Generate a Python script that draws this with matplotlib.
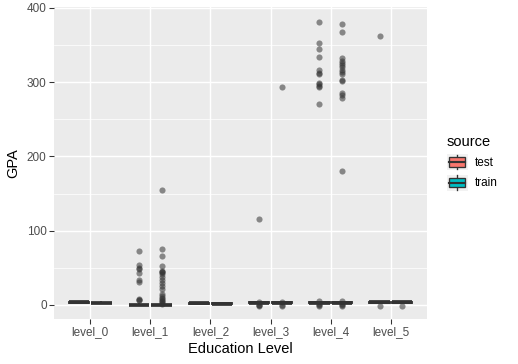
import matplotlib
matplotlib.use('Agg')
import matplotlib.pyplot as plt
from matplotlib.patches import Rectangle, Patch
from matplotlib.lines import Line2D
from matplotlib.legend_handler import HandlerBase

plt.rcParams['font.family'] = ['Liberation Sans', 'DejaVu Sans']

levels = ['level_0', 'level_1', 'level_2', 'level_3', 'level_4', 'level_5']
sources = ['test', 'train']
fills = {'test': '#F8766D', 'train': '#00BFC4'}

# box statistics (GPA)
test_lo = [2.9, 0.0, 1.2, 1.8, 1.8, 2.4]
test_q1 = [3.2, 0.0, 1.8, 2.6, 2.8, 3.0]
test_med = [3.5, 0.0, 2.2, 3.0, 3.2, 3.4]
test_q3 = [3.8, 0.4, 2.6, 3.4, 3.6, 3.7]
test_hi = [4.0, 1.0, 3.2, 4.0, 4.0, 4.0]

train_lo = [2.5, 0.0, 1.0, 1.8, 1.8, 2.4]
train_q1 = [2.8, 0.0, 1.6, 2.6, 2.8, 3.0]
train_med = [3.0, 0.0, 2.0, 3.0, 3.2, 3.4]
train_q3 = [3.3, 0.4, 2.4, 3.4, 3.6, 3.7]
train_hi = [3.6, 1.0, 3.0, 4.0, 4.0, 4.0]

test_out = [
    [],
    [73, 54, 50, 48, 43, 34, 31, 8, 7, 6.5],
    [],
    [116, 4.5, 0.5, -0.5, -1.5],
    [381, 353, 345, 334, 317, 313, 311, 299, 297, 295, 293, 270, 5.5, 1, 0, -1],
    [362, -1],
]
train_out = [
    [],
    [155, 75, 66, 53, 46, 45, 44, 42, 38, 33, 30, 26, 22, 15, 12, 10, 8, 6, 5, 3, 2],
    [],
    [293, 4.5, 0, -1],
    [379, 368, 332, 329, 326, 323, 320, 317, 314, 311, 303, 301, 286, 283, 279, 180,
     5, 2, 0, -1],
    [-1],
]

stats = {
    'test': (test_lo, test_q1, test_med, test_q3, test_hi, test_out),
    'train': (train_lo, train_q1, train_med, train_q3, train_hi, train_out),
}

dpi = 96
fig = plt.figure(figsize=(518 / dpi, 364 / dpi), dpi=dpi)
ax = fig.add_axes([54 / 518, 1 - 318.5 / 364, (427 - 54) / 518, (318.5 - 7) / 364])
ax.set_facecolor('#EBEBEB')
for s in ax.spines.values():
    s.set_visible(False)

edge = '#333333'
for k, src in enumerate(sources):
    lo, q1, med, q3, hi, out = stats[src]
    bs = []
    for i in range(len(levels)):
        bs.append({'whislo': lo[i], 'q1': q1[i], 'med': med[i], 'q3': q3[i],
                   'whishi': hi[i], 'fliers': out[i]})
    pos = [i + 1 + (k - 0.5) * 0.375 for i in range(len(levels))]
    ax.bxp(bs, positions=pos, widths=0.3375, patch_artist=True, showcaps=False,
           boxprops=dict(facecolor=fills[src], edgecolor=edge, linewidth=1.4),
           medianprops=dict(color=edge, linewidth=2.8),
           whiskerprops=dict(color=edge, linewidth=1.4),
           flierprops=dict(marker='o', markersize=4.6, markerfacecolor=edge,
                           markeredgecolor='none', alpha=0.55),
           zorder=3)

ax.set_xlim(0.4, 6.6)
ax.set_ylim(-18.2, 401.3)
ax.set_xticks(range(1, len(levels) + 1))
ax.set_xticklabels(levels)
ax.set_yticks([0, 100, 200, 300, 400])
ax.set_yticks([50, 150, 250, 350], minor=True)
ax.grid(True, which='major', color='white', linewidth=1.1, zorder=0)
ax.grid(True, which='minor', axis='y', color='white', linewidth=0.55, zorder=0)
ax.set_axisbelow(True)
ax.tick_params(axis='both', which='major', length=3.5, width=0.8, color=edge,
               labelcolor='#4D4D4D', labelsize=8.8, pad=2)
ax.tick_params(axis='both', which='minor', length=0)
ax.set_xlabel('Education Level', fontsize=11, labelpad=3)
ax.set_ylabel('GPA', fontsize=11, labelpad=5)


class BoxKey(HandlerBase):
    def create_artists(self, legend, orig_handle, xdescent, ydescent, width, height,
                       fontsize, trans):
        x0, y0 = -xdescent, -ydescent
        bg = Rectangle((x0, y0), width, height, fc='#F2F2F2', ec='none', transform=trans)
        cx = x0 + width / 2
        whisk = Line2D([cx, cx], [y0 + height * 0.05, y0 + height * 0.95],
                       color=edge, linewidth=1.0, transform=trans)
        box = Rectangle((x0 + width * 0.1, y0 + height * 0.2), width * 0.8, height * 0.6,
                        fc=orig_handle.get_facecolor(), ec=edge, linewidth=1.0,
                        transform=trans)
        med = Line2D([x0 + width * 0.1, x0 + width * 0.9], [y0 + height / 2] * 2,
                     color=edge, linewidth=1.6, transform=trans)
        return [bg, whisk, box, med]


handles = [Patch(facecolor=fills[s]) for s in sources]
leg = fig.legend(handles, sources, handler_map={Patch: BoxKey()},
                 loc='center left', bbox_to_anchor=(447 / 518, 1 - 163 / 364),
                 frameon=False, title='source', title_fontsize=11, fontsize=8.8,
                 handlelength=1.75, handleheight=1.7, labelspacing=0.4,
                 handletextpad=0.6, borderaxespad=0, borderpad=0)
leg._legend_box.align = 'left'

fig.savefig('out.png', dpi=dpi)
